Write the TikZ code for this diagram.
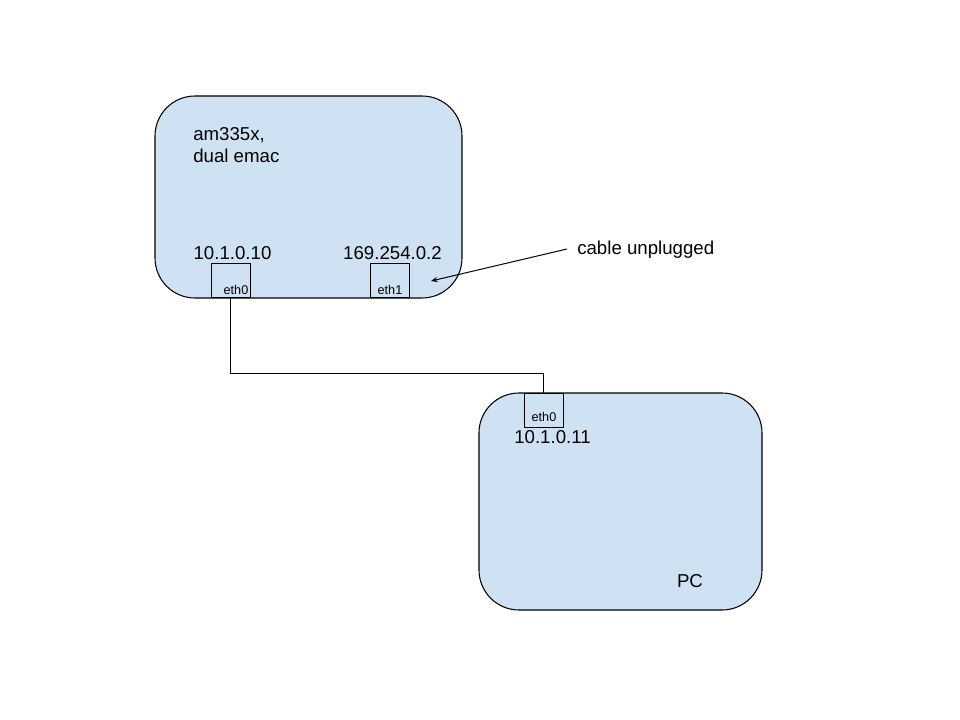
\documentclass[tikz,border=0pt]{standalone}
\usepackage{fontspec}
\setmainfont{Liberation Sans}
\usetikzlibrary{arrows.meta}
\definecolor{boxblue}{HTML}{CFE2F3}
\begin{document}
\begin{tikzpicture}[x=0.75pt,y=-0.75pt,
  device/.style={draw=black,fill=boxblue,rounded corners=30pt,line width=0.8pt},
  port/.style={draw=black,fill=boxblue,line width=0.75pt},
  lbl/.style={font=\fontsize{14}{17}\selectfont,inner sep=0pt},
  plbl/.style={font=\fontsize{9.5}{11}\selectfont,inner sep=0pt},
  wire/.style={draw=black,line width=0.75pt}]
\useasboundingbox (0,0) rectangle (960,720);
% devices
\draw[device] (155,96) rectangle (462,298);
\draw[device] (479,393) rectangle (762,610);
% ports
\node[port,minimum width=29.25pt,minimum height=25.5pt,inner sep=0pt] (eth0a) at (230.5,281) {};
\node[port,minimum width=29.25pt,minimum height=25.5pt,inner sep=0pt] (eth1a) at (389.5,281) {};
\node[port,minimum width=29.25pt,minimum height=25.5pt,inner sep=0pt] (eth0b) at (543.5,410) {};
\node[plbl] (t0a) at (236,290) {eth0};
\node[plbl] (t1a) at (390,290) {eth1};
\node[plbl] (t0b) at (544,417) {eth0};
% labels
\node[lbl,anchor=west] (name) at (193,147) {\begin{tabular}{@{}l@{}}am335x,\\dual emac\end{tabular}};
\node[lbl] (ipa) at (232.5,253) {10.1.0.10};
\node[lbl] (ipb) at (392.5,253) {169.254.0.2};
\node[lbl] (ipc) at (552.5,437) {10.1.0.11};
\node[lbl] (pc) at (690,581) {PC};
\node[lbl,anchor=west] (cab) at (577,250) {cable unplugged};
\coordinate (arrowend) at (431,281);
% connectors
\draw[wire] (eth0a.south) -- ++(0,75) -| (eth0b.north);
\draw[wire,-{Stealth[length=5pt,width=4pt]}] (cab.west) ++(-10,-1) -- (arrowend);
\end{tikzpicture}
\end{document}
